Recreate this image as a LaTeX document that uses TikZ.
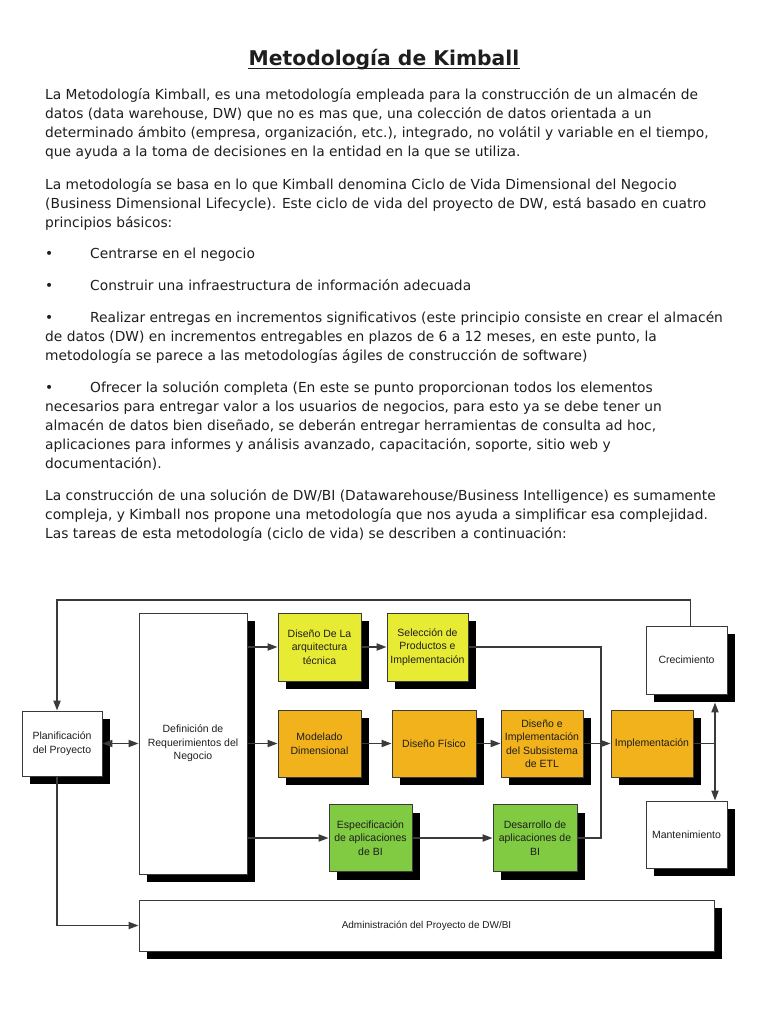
\documentclass[tikz,border=0pt]{standalone}
\usepackage{fontspec}
\setmainfont{DejaVu Sans}
\newfontfamily\diafont{Liberation Sans}
\usepackage{xcolor}
\usepackage{tikz}
\usetikzlibrary{shapes,arrows.meta,positioning,calc,shadows}

\definecolor{amarillo}{HTML}{E8EB33}
\definecolor{naranja}{HTML}{F1B21B}
\definecolor{verde}{HTML}{80CB42}
\definecolor{borde}{HTML}{3A3A3A}
\definecolor{texto}{HTML}{1E1E1E}

\tikzset{
  parrafo/.style={anchor=north west, inner sep=0pt, align=left, text=texto,
    font=\fontsize{13.8}{19}\selectfont},
  bloque/.style={draw=borde, line width=0.8pt, fill=white, align=center, inner sep=2pt,
    text=texto, font=\diafont\fontsize{10.5}{13.5}\selectfont,
    minimum width=83pt, minimum height=67pt,
    drop shadow={shadow xshift=8pt, shadow yshift=-8pt, fill=black, opacity=1}},
  flecha/.style={->, line width=1.8pt, draw=borde}
}

\newcommand{\vin}{\makebox[45pt][l]{•}}

\begin{document}
\begin{tikzpicture}[x=1pt, y=-1pt, >={Triangle[length=10pt,width=7pt]}]
\fill[white] (0,0) rectangle (768,1024);

% title
\node[inner sep=0pt, anchor=base, text=texto, font=\fontsize{20.3}{24}\selectfont\bfseries] (titulo) at (384,66) {Metodología de Kimball};
\draw[line width=1.8pt, texto] ([yshift=-2.5pt]titulo.base west) -- ([yshift=-2.5pt]titulo.base east);

% text above the diagram
\node[parrafo] (p1) at (45,85) {\rule{0pt}{14pt}La Metodología Kimball, es una metodología empleada para la construcción de un almacén de\\
datos (data warehouse, DW) que no es mas que, una colección de datos orientada a un\\
determinado ámbito (empresa, organización, etc.), integrado, no volátil y variable en el tiempo,\\
que ayuda a la toma de decisiones en la entidad en la que se utiliza.};
\node[parrafo] (p2) at (45,175) {\rule{0pt}{14pt}La metodología se basa en lo que Kimball denomina Ciclo de Vida Dimensional del Negocio\\
(Business Dimensional Lifecycle). Este ciclo de vida del proyecto de DW, está basado en cuatro\\
principios básicos:};
\node[parrafo] (b1) at (45,244) {\rule{0pt}{14pt}\vin Centrarse en el negocio};
\node[parrafo] (b2) at (45,276) {\rule{0pt}{14pt}\vin Construir una infraestructura de información adecuada};
\node[parrafo] (b3) at (45,308) {\rule{0pt}{14pt}\vin Realizar entregas en incrementos significativos (este principio consiste en crear el almacén\\
de datos (DW) en incrementos entregables en plazos de 6 a 12 meses, en este punto, la\\
metodología se parece a las metodologías ágiles de construcción de software)};
\node[parrafo] (b4) at (45,378) {\rule{0pt}{14pt}\vin Ofrecer la solución completa (En este se punto proporcionan todos los elementos\\
necesarios para entregar valor a los usuarios de negocios, para esto ya se debe tener un\\
almacén de datos bien diseñado, se deberán entregar herramientas de consulta ad hoc,\\
aplicaciones para informes y análisis avanzado, capacitación, soporte, sitio web y\\
documentación).};
\node[parrafo] (p3) at (45,486) {\rule{0pt}{14pt}La construcción de una solución de DW/BI (Datawarehouse/Business Intelligence) es sumamente\\
compleja, y Kimball nos propone una metodología que nos ayuda a simplificar esa complejidad.\\
Las tareas de esta metodología (ciclo de vida) se describen a continuación:};

% diagram boxes
\node[bloque, minimum width=80pt, minimum height=65pt] (plan) at (62,743.5) {Planificación\\del Proyecto};
\node[bloque, minimum width=108pt, minimum height=261pt] (defin) at (193,743.5) {Definición de\\Requerimientos del\\Negocio};
\node[bloque, fill=amarillo, minimum height=68pt] (arq) at (319.5,647) {Diseño De La\\arquitectura\\técnica};
\node[bloque, fill=amarillo, minimum width=81pt, minimum height=68pt] (sel) at (427.5,647) {Selección de\\Productos e\\Implementación};
\node[bloque, minimum width=81pt, minimum height=68pt] (crec) at (686.5,660) {Crecimiento};
\node[bloque, fill=naranja] (model) at (319.5,743.5) {Modelado\\Dimensional};
\node[bloque, fill=naranja, minimum width=84pt] (fis) at (434,743.5) {Diseño Físico};
\node[bloque, fill=naranja, minimum width=82pt] (etl) at (542,743.5) {Diseño e\\Implementación\\del Subsistema\\de ETL};
\node[bloque, fill=naranja, minimum width=82pt] (impl) at (652,743.5) {Implementación};
\node[bloque, fill=verde] (espec) at (370.5,838) {Especificación\\de aplicaciones\\de BI};
\node[bloque, fill=verde, minimum width=84pt] (desa) at (535,838) {Desarrollo de\\aplicaciones de\\BI};
\node[bloque, minimum width=81pt] (mant) at (686.5,834.5) {Mantenimiento};
\node[bloque, minimum width=575pt, minimum height=51pt, font=\diafont\fontsize{10}{12}\selectfont] (admin) at (426.5,925.5) {Administración del Proyecto de DW/BI};

% connectors
\coordinate (arriba) at (0,600);
\coordinate (jn) at (601,743.5);
\coordinate (vr) at (715,743.5);
\coordinate (crecb) at ([yshift=-8pt]crec.south);

\draw[flecha] ([xshift=4pt]crec.north) -- ([xshift=4pt]crec.north |- arriba) -| ([xshift=-5pt]plan.north);
\draw[flecha, <->] (plan.east) -- (defin.west);
\draw[flecha] (defin.east |- arq.west) -- (arq.west);
\draw[flecha] (defin.east) -- (model.west);
\draw[flecha] (defin.east |- espec.west) -- (espec.west);
\draw[flecha] (arq) -- (sel);
\draw[flecha] (model) -- (fis);
\draw[flecha] (fis) -- (etl);
\draw[flecha] (etl) -- (impl);
\draw[flecha] (espec) -- (desa);
\draw[flecha, -] (sel.east) -| (jn);
\draw[flecha, -] (desa.east) -| (jn);
\draw[flecha, -] (impl.east) -- (vr);
\draw[flecha, <->] (vr |- crecb) -- (vr |- mant.north);
\draw[flecha] ([xshift=-5pt]plan.south) |- (admin.west);
\end{tikzpicture}
\end{document}
